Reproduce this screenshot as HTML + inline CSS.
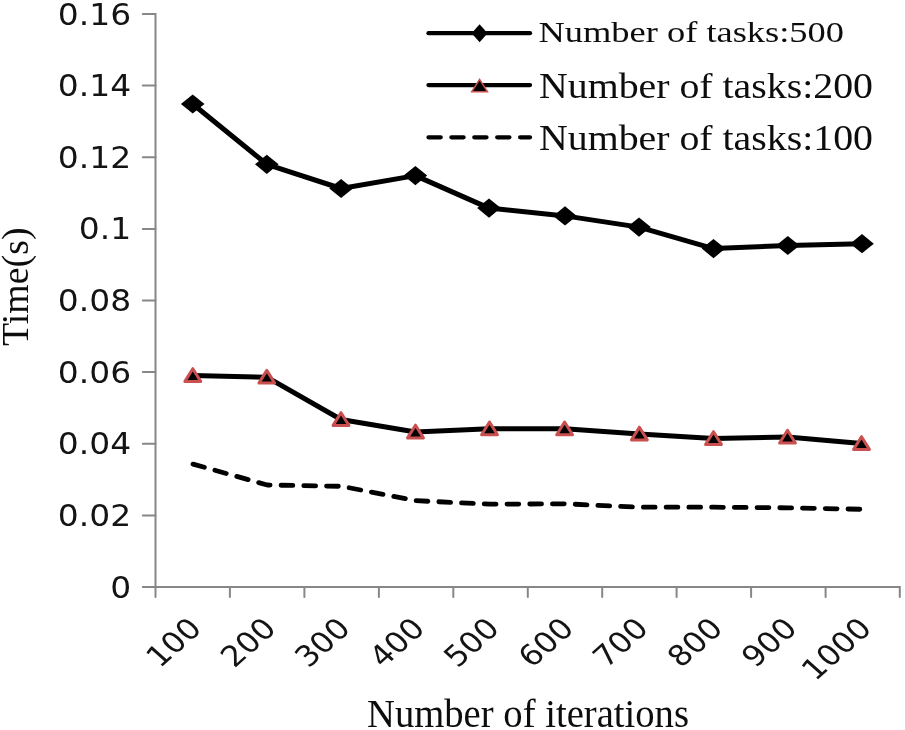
<!DOCTYPE html>
<html><head><meta charset="utf-8"><title>Chart</title><style>
html,body{margin:0;padding:0;background:#fff;width:905px;height:730px;overflow:hidden}
svg{display:block}
.ax{font-family:"DejaVu Sans","Liberation Sans",sans-serif;fill:#141414}
.ser{font-family:"Liberation Serif","Times New Roman",serif;fill:#0d0d0d}
</style></head><body>
<svg width="905" height="730" viewBox="0 0 905 730">
<g stroke="#878787" stroke-width="2.0" fill="none" stroke-linecap="round">
<path d="M142.8,14 H155.5 V597"/>
<path d="M142.8,587 H899.8 V597"/>
<line x1="142.8" y1="515.4" x2="155.5" y2="515.4"/>
<line x1="142.8" y1="443.8" x2="155.5" y2="443.8"/>
<line x1="142.8" y1="372.1" x2="155.5" y2="372.1"/>
<line x1="142.8" y1="300.5" x2="155.5" y2="300.5"/>
<line x1="142.8" y1="228.9" x2="155.5" y2="228.9"/>
<line x1="142.8" y1="157.2" x2="155.5" y2="157.2"/>
<line x1="142.8" y1="85.6" x2="155.5" y2="85.6"/>
<line x1="229.9" y1="587" x2="229.9" y2="597"/>
<line x1="304.4" y1="587" x2="304.4" y2="597"/>
<line x1="378.9" y1="587" x2="378.9" y2="597"/>
<line x1="453.3" y1="587" x2="453.3" y2="597"/>
<line x1="527.8" y1="587" x2="527.8" y2="597"/>
<line x1="602.2" y1="587" x2="602.2" y2="597"/>
<line x1="676.6" y1="587" x2="676.6" y2="597"/>
<line x1="751.1" y1="587" x2="751.1" y2="597"/>
<line x1="825.6" y1="587" x2="825.6" y2="597"/>
</g>
<g class="ax" font-size="29.3" text-anchor="end">
<text transform="translate(131.2,597.5) scale(1.125,1)">0</text>
<text transform="translate(131.2,525.9) scale(1.125,1)">0.02</text>
<text transform="translate(131.2,454.2) scale(1.125,1)">0.04</text>
<text transform="translate(131.2,382.6) scale(1.125,1)">0.06</text>
<text transform="translate(131.2,311.0) scale(1.125,1)">0.08</text>
<text transform="translate(131.2,239.4) scale(1.125,1)">0.1</text>
<text transform="translate(131.2,167.8) scale(1.125,1)">0.12</text>
<text transform="translate(131.2,96.1) scale(1.125,1)">0.14</text>
<text transform="translate(131.2,24.5) scale(1.125,1)">0.16</text>
</g>
<g class="ax" font-size="28.8" text-anchor="end">
<text transform="translate(203.2,630) scale(1.12,1) rotate(-45)">100</text>
<text transform="translate(277.7,630) scale(1.12,1) rotate(-45)">200</text>
<text transform="translate(352.1,630) scale(1.12,1) rotate(-45)">300</text>
<text transform="translate(426.6,630) scale(1.12,1) rotate(-45)">400</text>
<text transform="translate(501.0,630) scale(1.12,1) rotate(-45)">500</text>
<text transform="translate(575.5,630) scale(1.12,1) rotate(-45)">600</text>
<text transform="translate(649.9,630) scale(1.12,1) rotate(-45)">700</text>
<text transform="translate(724.4,630) scale(1.12,1) rotate(-45)">800</text>
<text transform="translate(798.8,630) scale(1.12,1) rotate(-45)">900</text>
<text transform="translate(873.3,630) scale(1.12,1) rotate(-45)">1000</text>
</g>
<polyline points="192.7,464 267.2,485 341.6,486.3 416,500.7 490.5,504.2 565,503.8 639.4,507.2 713.8,507.2 788.3,507.8 862.5,509.3" fill="none" stroke="#000" stroke-width="4.8" stroke-dasharray="11.8 10.94" stroke-dashoffset="-0.3" stroke-linecap="round" stroke-linejoin="round"/>
<polyline points="192.8,375.5 266.8,377.2 341,419.5 415.5,432 489.5,428.8 564.6,428.8 639.4,434 713.5,438.5 787.5,437.1 861.5,443.5" fill="none" stroke="#000" stroke-width="5" stroke-linejoin="round"/>
<polyline points="192.7,104 266.8,164.3 341.1,188.5 415.4,175.6 489,208.1 565,215.9 639,227.1 713.5,248.6 787.8,245.5 862,243.7" fill="none" stroke="#000" stroke-width="5" stroke-linejoin="round"/>
<path d="M180.9,104.0 L192.7,94.4 L204.5,104.0 L192.7,113.6Z" fill="#000"/>
<path d="M255.0,164.3 L266.8,154.7 L278.6,164.3 L266.8,173.9Z" fill="#000"/>
<path d="M329.3,188.5 L341.1,178.9 L352.9,188.5 L341.1,198.1Z" fill="#000"/>
<path d="M403.6,175.6 L415.4,166.0 L427.2,175.6 L415.4,185.2Z" fill="#000"/>
<path d="M477.2,208.1 L489.0,198.5 L500.8,208.1 L489.0,217.7Z" fill="#000"/>
<path d="M553.2,215.9 L565.0,206.3 L576.8,215.9 L565.0,225.5Z" fill="#000"/>
<path d="M627.2,227.1 L639.0,217.5 L650.8,227.1 L639.0,236.7Z" fill="#000"/>
<path d="M701.7,248.6 L713.5,239.0 L725.3,248.6 L713.5,258.2Z" fill="#000"/>
<path d="M776.0,245.5 L787.8,235.9 L799.6,245.5 L787.8,255.1Z" fill="#000"/>
<path d="M850.2,243.7 L862.0,234.1 L873.8,243.7 L862.0,253.3Z" fill="#000"/>
<path d="M192.8,368.7 L200.7,381.4 L184.9,381.4Z" fill="#000" stroke="#c9504f" stroke-width="3" stroke-linejoin="round"/>
<path d="M266.8,370.4 L274.7,383.1 L258.9,383.1Z" fill="#000" stroke="#c9504f" stroke-width="3" stroke-linejoin="round"/>
<path d="M341.0,412.7 L348.9,425.4 L333.1,425.4Z" fill="#000" stroke="#c9504f" stroke-width="3" stroke-linejoin="round"/>
<path d="M415.5,425.2 L423.4,437.9 L407.6,437.9Z" fill="#000" stroke="#c9504f" stroke-width="3" stroke-linejoin="round"/>
<path d="M489.5,422.0 L497.4,434.7 L481.6,434.7Z" fill="#000" stroke="#c9504f" stroke-width="3" stroke-linejoin="round"/>
<path d="M564.6,422.0 L572.5,434.7 L556.7,434.7Z" fill="#000" stroke="#c9504f" stroke-width="3" stroke-linejoin="round"/>
<path d="M639.4,427.2 L647.3,439.9 L631.5,439.9Z" fill="#000" stroke="#c9504f" stroke-width="3" stroke-linejoin="round"/>
<path d="M713.5,431.7 L721.4,444.4 L705.6,444.4Z" fill="#000" stroke="#c9504f" stroke-width="3" stroke-linejoin="round"/>
<path d="M787.5,430.3 L795.4,443.0 L779.6,443.0Z" fill="#000" stroke="#c9504f" stroke-width="3" stroke-linejoin="round"/>
<path d="M861.5,436.7 L869.4,449.4 L853.6,449.4Z" fill="#000" stroke="#c9504f" stroke-width="3" stroke-linejoin="round"/>
<g fill="none" stroke="#000" stroke-width="4.3" stroke-linecap="round">
<line x1="428.5" y1="33.2" x2="530" y2="33.2"/>
<line x1="428.5" y1="85.1" x2="530" y2="85.1"/>
<line x1="428.5" y1="137.3" x2="530" y2="137.3" stroke-dasharray="12.2 10.7"/>
</g>
<path d="M471.6,33.2 L479.6,24.2 L487.6,33.2 L479.6,42.2Z" fill="#000"/>
<path d="M479.6,79.3 L487.5,91.8 L471.7,91.8Z" fill="#000" stroke="#c9504f" stroke-width="1.5"/>
<g class="ser">
<text x="538.5" y="42" font-size="28.5" textLength="305.5" lengthAdjust="spacingAndGlyphs">Number of tasks:500</text>
<text x="539" y="97.5" font-size="34.8" textLength="334" lengthAdjust="spacingAndGlyphs">Number of tasks:200</text>
<text x="539" y="149.6" font-size="34.8" textLength="334" lengthAdjust="spacingAndGlyphs">Number of tasks:100</text>
<text x="367" y="726.6" font-size="39" textLength="322" lengthAdjust="spacingAndGlyphs">Number of iterations</text>
<text transform="translate(28,346) scale(1.07,1) rotate(-90)" font-size="36" textLength="118.5" lengthAdjust="spacingAndGlyphs">Time(s)</text>
</g>
</svg>
</body></html>
